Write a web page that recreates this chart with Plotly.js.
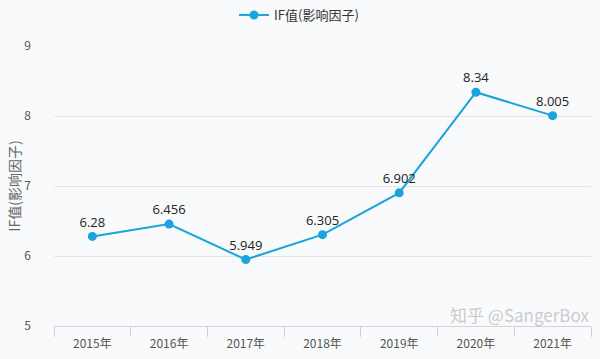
<!DOCTYPE html>
<html>
<head>
<meta charset="utf-8">
<script src="https://cdn.plot.ly/plotly-3.0.1.min.js"></script>
<style>html,body{margin:0;padding:0;background:#f9fafc;}</style>
</head>
<body>
<div id="chart" style="width:600px;height:359px;"></div>
<script>
const years = ["2015年","2016年","2017年","2018年","2019年","2020年","2021年"];
const ifValues = [6.28, 6.456, 5.949, 6.305, 6.902, 8.34, 8.005];
const ifLabels = ["6.28","6.456","5.949","6.305","6.902","8.34","8.005"];
const seriesName = "IF值(影响因子)";

const trace = {
  x: years,
  y: ifValues,
  text: ifLabels,
  name: seriesName,
  type: "scatter",
  mode: "lines+markers+text",
  textposition: "top center",
  textfont: {family: "Open Sans, DejaVu Sans, sans-serif", size: 13, color: "#222"},
  line: {color: "#1aa3dc", width: 2},
  marker: {color: "#1aa3dc", size: 9},
  cliponaxis: false,
  hoverinfo: "x+y"
};

const layout = {
  width: 600, height: 359,
  margin: {l: 54, r: 9, t: 46, b: 33},
  paper_bgcolor: "#f9fafc",
  plot_bgcolor: "#f9fafc",
  font: {family: "Noto Sans CJK SC, Noto Sans, sans-serif", color: "#555"},
  showlegend: true,
  legend: {
    orientation: "h", x: 0.39, xref: "container", xanchor: "left",
    y: 1, yref: "container", yanchor: "top",
    font: {size: 13, color: "#333"}, bgcolor: "rgba(0,0,0,0)"
  },
  xaxis: {
    type: "category",
    tickson: "boundaries",
    ticks: "outside", ticklen: 10, tickcolor: "#d0d3d8",
    ticklabelstandoff: 7,
    showline: true, linecolor: "#d0d3d8", linewidth: 1,
    showgrid: false, zeroline: false,
    tickfont: {size: 12, color: "#555"},
    range: [-0.5, 6.5]
  },
  yaxis: {
    range: [5, 9],
    dtick: 1,
    showgrid: true, gridcolor: "#e3e5e9", gridwidth: 1,
    zeroline: false, showline: false,
    ticks: "", ticklabelstandoff: 22,
    tickfont: {size: 12, color: "#555"},
    title: {text: "IF值(影响因子)", font: {size: 14, color: "#666"}, standoff: 0}
  },
  annotations: [{
    text: "知乎 @SangerBox", xref: "paper", yref: "paper", x: 1.0, y: 0.04,
    xanchor: "right", yanchor: "middle", showarrow: false,
    font: {size: 17, color: "rgba(190,190,195,0.8)"}
  }]
};

Plotly.newPlot("chart", [trace], layout, {displayModeBar: false, staticPlot: true});
</script>
</body>
</html>
